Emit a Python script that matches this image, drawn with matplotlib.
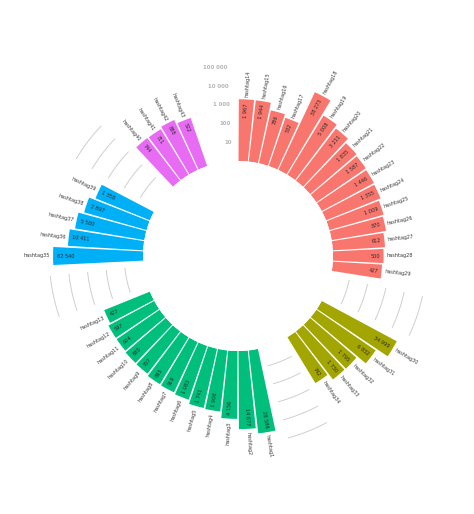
import numpy as np
import matplotlib
matplotlib.use("Agg")
import matplotlib.pyplot as plt

# ------------------------------------------------------------
# Data (clockwise from 12 o'clock)
# ------------------------------------------------------------
red_names = [f"hashtag{i}" for i in range(14, 30)]
red_values = [1967, 1944, 786, 532, 38273, 5008, 3211, 1835, 1587, 1446,
              1355, 1009, 870, 612, 500, 427]

olive_names = [f"hashtag{i}" for i in range(30, 35)]
olive_values = [34999, 6832, 1795, 1730, 742]

green_names = [f"hashtag{i}" for i in range(1, 14)]
green_values = [28586, 14677, 4156, 1906, 1741, 1083, 919, 865, 707, 680,
                604, 597, 427]

blue_names = [f"hashtag{i}" for i in range(35, 40)]
blue_values = [62540, 10411, 5580, 2897, 1358]

purple_names = [f"hashtag{i}" for i in range(40, 44)]
purple_values = [744, 711, 888, 522]

group_colors = ["#F8766D", "#A3A500", "#00BF7D", "#00B0F6", "#E76BF3"]
grid_values = [10, 100, 1000, 10000, 100000]
grid_labels = ["10", "100", "1 000", "10 000", "100 000"]

EMPTY = 3  # empty slots after each group


def fmt(v):
    return f"{v:,}".replace(",", " ")


# ------------------------------------------------------------
# Layout of slots
# ------------------------------------------------------------
groups = [
    (red_names, red_values),
    (olive_names, olive_values),
    (green_names, green_values),
    (blue_names, blue_values),
    (purple_names, purple_values),
]

ids, names, values, colors, spans = [], [], [], [], []
pos = 0
for (gn, gv), col in zip(groups, group_colors):
    start = pos
    for n, v in zip(gn, gv):
        ids.append(pos)
        names.append(n)
        values.append(v)
        colors.append(col)
        pos += 1
    spans.append((start, pos - 1))
    pos += EMPTY
n_slots = pos
step = 2 * np.pi / n_slots

ids = np.array(ids)
theta = (ids + 0.5) * step
heights = np.log10(np.array(values, dtype=float))

# ------------------------------------------------------------
# Figure
# ------------------------------------------------------------
W, H, DPI = 474, 514, 100
fig = plt.figure(figsize=(W / DPI, H / DPI), dpi=DPI)
fig.patch.set_facecolor("white")

cx, cy = 238, 258          # centre in pixels (from bottom)
r_hole, per_dec = 95, 18.75
rmax = 6.0
R = r_hole + per_dec * rmax
ax = fig.add_axes([(cx - R) / W, (cy - R) / H, 2 * R / W, 2 * R / H],
                  projection="polar")
ax.set_theta_zero_location("N")
ax.set_theta_direction(-1)
ax.set_rorigin(-r_hole / per_dec)
ax.set_ylim(0, rmax)
ax.axis("off")

# grid arcs in the gaps between groups (none in the first gap)
for k in range(1, len(spans)):
    a0 = (spans[k - 1][1] + 1.5) * step
    a1 = (spans[k][0] - 0.5) * step
    tt = np.linspace(a0, a1, 50)
    for gv in grid_values:
        ax.plot(tt, np.full_like(tt, np.log10(gv)), color="#cfcfcf",
                lw=0.7, zorder=1)

# bars
ax.bar(theta, heights, width=step * 0.9, bottom=0, color=colors,
       edgecolor="none", zorder=2)

# scale labels at the top
lab_theta = (n_slots - 0.5) * step
for gv, gl in zip(grid_values, grid_labels):
    ax.text(lab_theta, np.log10(gv), gl, ha="right", va="center",
            fontsize=4, color="#b5b5b5", fontweight="bold")

# bar labels
for t, h, n, v in zip(theta, heights, names, values):
    deg = np.degrees(t)
    if deg <= 180:
        rot = 90 - deg
        ha_out, ha_in = "left", "right"
    else:
        rot = 270 - deg
        ha_out, ha_in = "right", "left"
    ax.text(t, h + 0.15, n, rotation=rot, rotation_mode="anchor",
            ha=ha_out, va="center", fontsize=3.6, color="#3a3a3a")
    ax.text(t, h - 0.2, fmt(v), rotation=rot, rotation_mode="anchor",
            ha=ha_in, va="center", fontsize=3.6, color="#2a2a2a", zorder=3)

fig.savefig("out.png", dpi=DPI)
